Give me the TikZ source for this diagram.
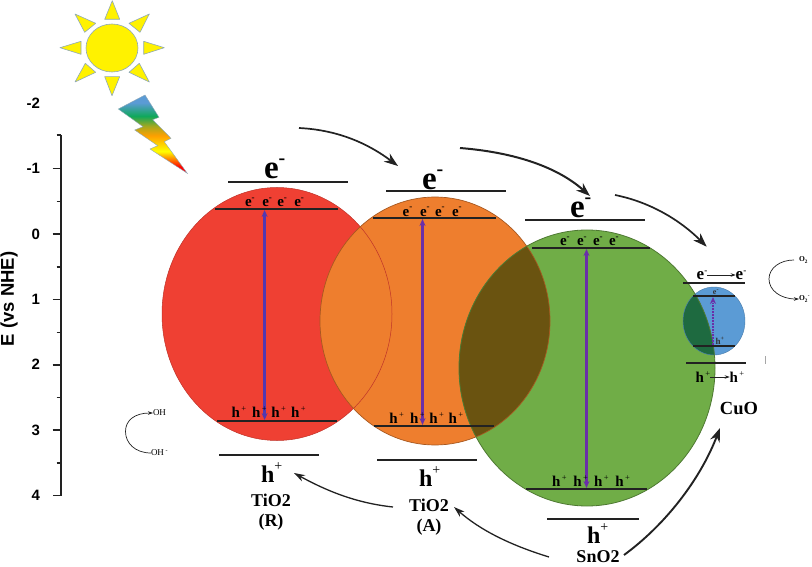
\documentclass[tikz,border=0pt]{standalone}
\usepackage{fontspec}
\setmainfont{Liberation Serif}
\newfontfamily\axisfont{Liberation Sans}
\usetikzlibrary{arrows.meta}
\definecolor{cRed}{HTML}{EF4033}
\definecolor{cOrange}{HTML}{EE7E2E}
\definecolor{cGreen}{HTML}{70AD47}
\definecolor{cBlue}{HTML}{5B9BD5}
\definecolor{cBrown}{HTML}{6A5310}
\definecolor{cDkGreen}{HTML}{1E6A40}
\definecolor{cPurple}{HTML}{6A2FA8}
\definecolor{cBluePurple}{HTML}{5338B0}
\definecolor{cLine}{HTML}{222222}
\definecolor{cSunEdge}{HTML}{8FA9B8}
\definecolor{cBoltGreen}{HTML}{0FA85A}
\definecolor{cBoltOlive}{HTML}{A8A81E}
\pgfdeclareverticalshading{boltshade}{100bp}{
 color(0bp)=(red);
 color(29bp)=(red);
 color(39bp)=(yellow);
 color(49bp)=(orange!75!yellow);
 color(55bp)=(cBoltOlive);
 color(61.5bp)=(cBoltGreen);
 color(70bp)=(cBlue);
 color(100bp)=(cBlue)}
\newcommand{\bigminus}{\raisebox{14pt}{\fontsize{20}{20}\selectfont -}}
\newcommand{\bigplus}{\raisebox{12pt}{\mdseries\fontsize{14}{14}\selectfont +}}
\newcommand{\smallminus}{\raisebox{6pt}{\fontsize{9}{9}\selectfont -}}
\newcommand{\smallplus}{\raisebox{6pt}{\mdseries\fontsize{8.5}{8.5}\selectfont\,+}}
\tikzset{
 x=1pt,y=-1pt,
 txt/.style={inner sep=0pt,outer sep=0pt,text=black,font=\bfseries},
 bigcarrier/.style={txt,anchor=base west,font=\bfseries\fontsize{33}{33}\selectfont},
 bighole/.style={txt,anchor=base west,font=\bfseries\fontsize{24}{24}\selectfont},
 smallcarrier/.style={txt,anchor=base west,font=\bfseries\fontsize{15}{15}\selectfont},
 midcarrier/.style={txt,font=\bfseries\fontsize{17}{17}\selectfont},
 tinylabel/.style={txt,font=\fontsize{9}{9}\selectfont},
 matname/.style={txt,font=\bfseries\fontsize{18}{20}\selectfont},
 axlabel/.style={txt,font=\axisfont\bfseries\fontsize{15}{15}\selectfont,anchor=east},
 inband/.style={draw=cLine,line width=1.8pt},
 outband/.style={draw=cLine,line width=1.5pt},
 axisline/.style={draw=cLine,line width=1.6pt},
 flowarrow/.style={draw=cLine,line width=1.7pt,-{Stealth[length=14pt,width=10pt]}},
 flowthin/.style={draw=cLine,line width=1.3pt,-{Stealth[length=11pt,width=7pt]}},
 cyclearrow/.style={draw=cLine,line width=.7pt,-{Stealth[length=5pt,width=3.5pt]}},
 exc/.style={line width=2.3pt,{Stealth[length=7pt,width=6pt]}-{Stealth[length=7pt,width=6pt]}},
 ray/.style={fill=yellow,draw=cSunEdge,line width=.6pt,line join=round},
}
\begin{document}
\begin{tikzpicture}
\useasboundingbox (0,0) rectangle (812,567);
% Sun
\fill[ray] (112,48) ellipse [x radius=26,y radius=24];
\fill[ray] (112.3,0.7) -- (104.7,19.3) -- (119.7,19.3) -- cycle;
\fill[ray] (112,95.7) -- (104.7,76.7) -- (119.7,76.7) -- cycle;
\fill[ray] (60,47.7) -- (81,41.3) -- (81,54.3) -- cycle;
\fill[ray] (164.3,47.7) -- (143.7,41.3) -- (143.7,54.3) -- cycle;
\fill[ray] (75,14) -- (95.7,23.3) -- (84.7,32.3) -- cycle;
\fill[ray] (149.3,14) -- (129,23.3) -- (140,32.3) -- cycle;
\fill[ray] (75,82) -- (95.7,72.3) -- (85.3,63.3) -- cycle;
\fill[ray] (149.3,82) -- (129,72.3) -- (139.3,63.3) -- cycle;
% Lightning bolt
\shade[shading=boltshade,draw=cSunEdge,line width=.4pt]
 (118.3,109) -- (145,95) -- (159,117.3) -- (152.7,119.7) -- (171,138.3) -- (164.3,141.7)
 -- (187.3,173.3) -- (150,149) -- (157.7,145.7) -- (134.7,130) -- (143,126.7) -- cycle;
% Axis
\draw[axisline] (60.7,135) -- (60.7,495.3) -- (52.7,495.3);
\foreach \yy in {168.7,234,299.3,364.7,430} \draw[axisline] (52.7,\yy) -- (60.7,\yy);
\foreach \yy in {135,201.7,267,332.3,397.7,463} \draw[axisline,line width=1.2pt] (56.7,\yy) -- (60.7,\yy);
\node[axlabel] (lm2) at (40,103) {-2};
\node[axlabel] (lm1) at (40,168) {-1};
\node[axlabel] (l0) at (40,234) {0};
\node[axlabel] (l1) at (40,299) {1};
\node[axlabel] (l2) at (40,364.5) {2};
\node[axlabel] (l3) at (40,430) {3};
\node[axlabel] (l4) at (40,495) {4};
\node[txt,font=\axisfont\bfseries\fontsize{18.5}{19}\selectfont,rotate=90] (ylab) at (9,299) {E (vs NHE)};
% Circles
\fill[cRed] (277,314) ellipse [x radius=115,y radius=126.5];
\fill[cOrange] (435,321) ellipse [x radius=115,y radius=124];
\fill[cGreen] (587,368) ellipse [x radius=128,y radius=138];
\begin{scope}
 \clip (435,321) ellipse [x radius=115,y radius=124];
 \fill[cBrown] (587,368) ellipse [x radius=128,y radius=138];
\end{scope}
\fill[cBlue] (714,321) ellipse [x radius=31,y radius=34];
\begin{scope}
 \clip (587,368) ellipse [x radius=128,y radius=138];
 \fill[cDkGreen] (714,321) ellipse [x radius=31,y radius=34];
\end{scope}
\draw[cRed!80!black,line width=.5pt] (277,314) ellipse [x radius=115,y radius=126.5];
\draw[cOrange!70!black,line width=.7pt] (435,321) ellipse [x radius=115,y radius=124];
\draw[cGreen!70!black,line width=.8pt] (587,368) ellipse [x radius=128,y radius=138];
\draw[cBlue!80!black,line width=.4pt] (714,321) ellipse [x radius=31,y radius=34];
% Excitation arrows
\draw[exc,draw=cBluePurple,fill=cBluePurple] (264.6,420) -- (264.6,210);
\draw[exc,draw=cPurple,fill=cPurple] (422.5,425) -- (422.5,219);
\draw[exc,draw=cPurple,fill=cPurple] (586.5,488) -- (586.5,249);
\draw[cPurple,line width=1.9pt,densely dotted,-{Stealth[length=7pt,width=6pt]}] (713,345) -- (713,297);
% Band lines
\draw[outband] (228,182) -- (348,182);
\draw[inband] (215,209) -- (338,209);
\draw[inband] (217,420.7) -- (337,420.7);
\draw[outband] (219,455) -- (319,455);
\draw[outband] (386,191) -- (506,191);
\draw[inband] (373,218) -- (496,218);
\draw[inband] (374,426) -- (494,426);
\draw[outband] (377,460) -- (477,460);
\draw[outband] (525,220) -- (645,220);
\draw[inband] (532,248) -- (650,248);
\draw[inband] (526,489) -- (647,489);
\draw[outband] (547,519) -- (639,519);
\draw[outband] (683,283) -- (745,283);
\draw[inband,line width=1.5pt] (693,296) -- (735,296);
\draw[inband,line width=1.5pt] (693,346) -- (735,346);
\draw[outband] (686,363) -- (746,363);
% Large carriers
\node[bigcarrier] (eR) at (264,179) {e\bigminus};
\node[bigcarrier] (eA) at (422,190) {e\bigminus};
\node[bigcarrier] (eS) at (570,218) {e\bigminus};
\node[bighole] (hR) at (261,482) {h\bigplus};
\node[bighole] (hA) at (419,486) {h\bigplus};
\node[bighole] (hS) at (587,543) {h\bigplus};
% Small carriers: electrons
\foreach \nn/\xx/\yy in {r1/245/206.7,r2/262.3/206.7,r3/277.3/206.7,r4/294.3/206.7,a1/402.7/216,a2/420/216,a3/435/216,a4/452/216,s1/560/245.5,s2/577/245.5,s3/593/245.5,s4/609/245.5}
 \node[smallcarrier] (e\nn) at (\xx,\yy) {e\smallminus};
% Small carriers: holes
\foreach \nn/\xx/\yy in {r1/231.7/417.7,r2/252/417.7,r3/271.3/417.7,r4/291/417.7,a1/389.3/423.3,a2/410/423.3,a3/429.3/423.3,a4/448.7/423.3,s1/552/486.7,s2/573.3/486.7,s3/594/486.7,s4/615.3/486.7}
 \node[smallcarrier] (h\nn) at (\xx,\yy) {h\smallplus};
% Names
\node[matname,align=center] (nameR) at (271,512) {TiO2\\(R)};
\node[matname,align=center] (nameA) at (429,517) {TiO2\\(A)};
\node[matname,anchor=base] (nameS) at (598,562.5) {SnO2};
\node[matname,font=\bfseries\fontsize{18.5}{19}\selectfont] (nameC) at (739,408) {CuO};
% CuO carriers
\node[midcarrier] (ec1) at (702,275) {e\smallminus};
\node[midcarrier] (ec2) at (741,275) {e\smallminus};
\draw[cyclearrow,line width=.8pt] (ec1) -- (ec2);
\node[txt,font=\bfseries\fontsize{15}{15}\selectfont] (hc1) at (703,377) {h\smallplus};
\node[txt,font=\bfseries\fontsize{15}{15}\selectfont] (hc2) at (737,377) {h\smallplus};
\draw[cyclearrow,line width=.8pt] (hc1) -- (hc2);
\node[txt,font=\bfseries\fontsize{8}{8}\selectfont,text=black!80] (ec3) at (716,292) {e\textsuperscript{-}};
\node[txt,font=\bfseries\fontsize{9}{9}\selectfont,text=black!80] (hc3) at (720,341) {h\textsuperscript{+}};
% Flow arrows
\coordinate (fa1) at (299,128); \coordinate (fa2) at (398,166);
\coordinate (fb1) at (460,148); \coordinate (fb2) at (590,196);
\coordinate (fc1) at (615,195); \coordinate (fc2) at (706.7,246.7);
\draw[flowarrow] (fa1) .. controls (340,130) and (370,145) .. (fa2);
\draw[flowarrow,line width=2pt] (fb1) .. controls (510,152) and (555,165) .. (fb2);
\draw[flowarrow] (fc1) .. controls (650,202) and (680,220) .. (fc2);
\coordinate (fd1) at (393,507); \coordinate (fd2) at (294,473);
\coordinate (fe1) at (549,557); \coordinate (fe2) at (454,507);
\coordinate (ff1) at (624,555); \coordinate (ff2) at (720,428);
\draw[flowthin] (fd1) .. controls (355,503) and (325,490) .. (fd2);
\draw[flowthin] (fe1) .. controls (510,545) and (480,530) .. (fe2);
\draw[flowarrow,line width=1.9pt] (ff1) .. controls (665,525) and (700,480) .. (ff2);
% OH cycle
\node[tinylabel,anchor=west] (oh1) at (153,413) {OH};
\node[tinylabel,anchor=west] (oh2) at (151,453) {OH\textsuperscript{ -}};
\draw[cyclearrow] (oh2.west) .. controls (135,453) and (125.5,443) .. (125.5,431.5) .. controls (125.5,420) and (135,413) .. (oh1.west);
% O2 cycle
\node[txt,font=\bfseries\fontsize{7.5}{8}\selectfont,anchor=west] (o1) at (799,260) {O\textsubscript{2}};
\node[txt,font=\bfseries\fontsize{7.5}{8}\selectfont,anchor=west] (o2) at (799,299) {O\textsubscript{2}\textsuperscript{-}};
\draw[cyclearrow] (794,260) .. controls (780,260) and (769,268) .. (769,279) .. controls (769,290) and (780,299) .. (o2.west);
\draw[black!35,line width=1pt] (765,356) -- (765,364);
\end{tikzpicture}
\end{document}
